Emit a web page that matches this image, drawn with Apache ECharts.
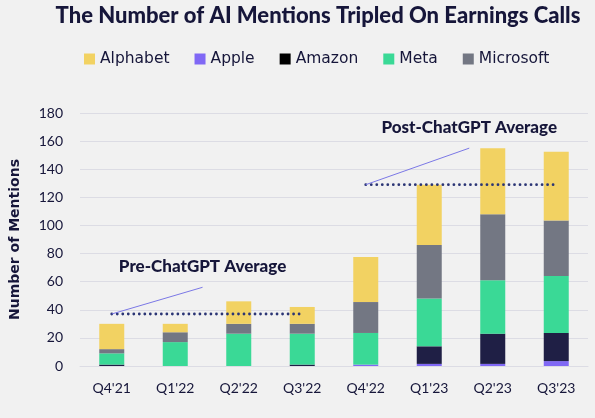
<!DOCTYPE html>
<html>
<head>
<meta charset="utf-8">
<script src="https://cdn.jsdelivr.net/npm/echarts@6/dist/echarts.min.js"></script>
<style>
html,body{margin:0;padding:0;background:#f1f1f1;}
#c{width:595px;height:418px;}
</style>
</head>
<body>
<div id="c"></div>
<script>
const categories = ["Q4'21","Q1'22","Q2'22","Q3'22","Q4'22","Q1'23","Q2'23","Q3'23"];
const apple     = [0, 0, 0, 0, 1, 1.5, 1.5, 3.5];
const amazon    = [1, 0, 0, 1, 0, 12.5, 21.5, 20];
const meta      = [8, 17, 23, 22, 22.5, 34, 38, 40.5];
const microsoft = [3, 7, 7, 7, 22, 38, 47, 39.5];
const alphabet  = [18, 6, 16, 12, 32, 43, 47, 49];
const yTicks = [0, 20, 40, 60, 80, 100, 120, 140, 160, 180];
const preAvg = 37;
const postAvg = 129;
const preAvgRange = [0, 3];
const postAvgRange = [4, 7];
const preConnector = [[0, 37], [1.43, 56]];
const postConnector = [[4, 129], [5.63, 155]];
const preLabel = [1.43, 70.5, 'Pre-ChatGPT Average'];
const postLabel = [5.63, 170, 'Post-ChatGPT Average'];

const colors = {
  Alphabet: '#f2d262', Apple: '#8068f5', Amazon: '#1f1f45', Meta: '#3ad996', Microsoft: '#737783'
};
const font = 'Lato, "Noto Sans", sans-serif';
const wideFont = '"DejaVu Sans", sans-serif';
const navy = '#16163a';

function bar(name, data) {
  return {
    name, type: 'bar', stack: 'all', data, barWidth: 25,
    itemStyle: { color: colors[name] },
    xAxisIndex: 0, yAxisIndex: 0
  };
}

const dotStyle = { color: '#2b3575', width: 2.8, type: [0.01, 5.5], cap: 'round' };

const chart = echarts.init(document.getElementById('c'));
chart.setOption({
  backgroundColor: '#f1f1f1',
  animation: false,
  title: {
    text: 'The Number of AI Mentions Tripled On Earnings Calls',
    left: 313, top: 0, textAlign: 'center',
    textStyle: { fontFamily: font, fontWeight: 900, fontSize: 22, color: navy }
  },
  legend: {
    top: 46, left: 79, itemWidth: 11, itemHeight: 11, itemGap: 25,
    icon: 'rect',
    textStyle: { fontFamily: wideFont, fontSize: 15.5, color: navy },
    data: [
      { name: 'Alphabet' }, { name: 'Apple' },
      { name: 'Amazon', itemStyle: { color: '#000000' } },
      { name: 'Meta' }, { name: 'Microsoft' }
    ]
  },
  grid: { left: 80, right: 7, top: 113, bottom: 52 },
  xAxis: [
    {
      type: 'category', data: categories,
      axisLine: { lineStyle: { color: '#dcdce4' } },
      axisTick: { show: false },
      axisLabel: { fontFamily: font, fontSize: 14, color: navy, margin: 15 }
    },
    { type: 'value', min: -0.5, max: 7.5, show: false }
  ],
  yAxis: {
    type: 'value', min: 0, max: 180, interval: 20,
    name: 'Number of Mentions', nameLocation: 'middle', nameGap: 58,
    nameTextStyle: { fontFamily: wideFont, fontWeight: 'bold', fontSize: 14, color: navy },
    axisLabel: {
      fontFamily: font, fontSize: 14, color: navy, margin: 17,
      formatter: v => yTicks.includes(v) ? String(v) : ''
    },
    splitLine: { lineStyle: { color: '#dcdce4', width: 1 } },
    axisLine: { show: false }, axisTick: { show: false }
  },
  series: [
    bar('Apple', apple),
    bar('Amazon', amazon),
    bar('Meta', meta),
    bar('Microsoft', microsoft),
    bar('Alphabet', alphabet),
    {
      type: 'line', xAxisIndex: 1, yAxisIndex: 0, symbol: 'none', silent: true, z: 5,
      lineStyle: dotStyle,
      data: [[preAvgRange[0], preAvg], [preAvgRange[1], preAvg]]
    },
    {
      type: 'line', xAxisIndex: 1, yAxisIndex: 0, symbol: 'none', silent: true, z: 5,
      lineStyle: dotStyle,
      data: [[postAvgRange[0], postAvg], [postAvgRange[1], postAvg]]
    },
    {
      type: 'line', xAxisIndex: 1, yAxisIndex: 0, symbol: 'none', silent: true, z: 5,
      lineStyle: { color: '#7b78e6', width: 1 }, data: preConnector
    },
    {
      type: 'line', xAxisIndex: 1, yAxisIndex: 0, symbol: 'none', silent: true, z: 5,
      lineStyle: { color: '#7b78e6', width: 1 }, data: postConnector
    },
    {
      type: 'scatter', xAxisIndex: 1, yAxisIndex: 0, symbolSize: 0, silent: true, z: 6,
      itemStyle: { opacity: 1 },
      data: [preLabel, postLabel],
      label: {
        show: true, position: 'inside', formatter: p => p.data[2],
        fontFamily: font, fontWeight: 900, fontSize: 17, color: navy
      }
    }
  ]
});
</script>
</body>
</html>
